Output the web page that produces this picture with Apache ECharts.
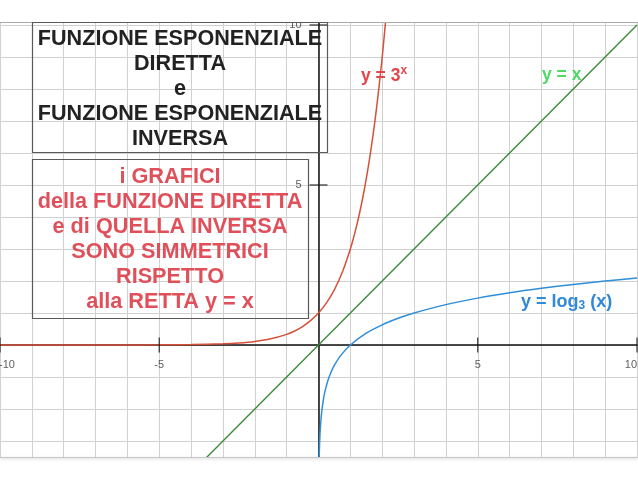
<!DOCTYPE html>
<html>
<head>
<meta charset="utf-8">
<script src="https://cdn.jsdelivr.net/npm/echarts@6/dist/echarts.min.js"></script>
<style>html,body{margin:0;padding:0;background:#fff}#c{width:638px;height:479px}</style>
</head>
<body>
<div id="c"></div>
<script>
// ---- data ----
const xTickLabels = [-10, -5, 5, 10];
const yTickLabels = [5, 10];

// y = 3^x
const expX = [-10, -6, -5, -4, -3, -2.5, -2, -1.5, -1, -0.75, -0.5, -0.25, 0, 0.25, 0.5, 0.75, 1, 1.1, 1.2, 1.3, 1.4, 1.5, 1.6, 1.7, 1.8, 1.9, 2, 2.05, 2.1, 2.15];
const expY = [0.00002, 0.0014, 0.0041, 0.0123, 0.037, 0.064, 0.111, 0.192, 0.333, 0.439, 0.577, 0.760, 1, 1.316, 1.732, 2.280, 3, 3.348, 3.737, 4.171, 4.656, 5.196, 5.800, 6.473, 7.225, 8.064, 9, 9.509, 10.045, 10.6];

// y = x
const idX = [-4, 10];
const idY = [-4, 10];

// y = log3(x)
const logX = [0.018, 0.022, 0.03, 0.04, 0.05, 0.075, 0.1, 0.15, 0.2, 0.3, 0.4, 0.5, 0.7, 1, 1.5, 2, 2.5, 3, 4, 5, 6, 7, 8, 9, 10];
const logY = [-3.65, -3.475, -3.19, -2.93, -2.73, -2.36, -2.096, -1.727, -1.465, -1.096, -0.834, -0.631, -0.325, 0, 0.369, 0.631, 0.834, 1, 1.262, 1.465, 1.631, 1.771, 1.893, 2, 2.096];

const titleLines = ['FUNZIONE ESPONENZIALE', 'DIRETTA', 'e', 'FUNZIONE ESPONENZIALE', 'INVERSA'];
const noteLines = ['i GRAFICI', 'della FUNZIONE DIRETTA', 'e di QUELLA INVERSA', 'SONO SIMMETRICI', 'RISPETTO', 'alla RETTA y = x'];

const pairs = (xs, ys) => xs.map((x, i) => [x, ys[i]]);

const chart = echarts.init(document.getElementById('c'));
const font = '"Liberation Sans", Arial, sans-serif';

const graphics = [
  { type: 'rect', z: 50, shape: { x: 0, y: 0, width: 638, height: 22 }, style: { fill: '#fff' } },
  { type: 'rect', z: 50, shape: { x: 0, y: 457, width: 638, height: 22 }, style: { fill: '#fff' } },
  { type: 'line', z: 51, shape: { x1: 0, y1: 22.5, x2: 638, y2: 22.5 }, style: { stroke: '#aaa', lineWidth: 1 } },
  { type: 'line', z: 51, shape: { x1: 0, y1: 457.5, x2: 638, y2: 457.5 }, style: { stroke: '#c8c8c8', lineWidth: 1, shadowColor: 'rgba(0,0,0,0.25)', shadowBlur: 3, shadowOffsetY: 1 } },
  { type: 'rect', z: 60, shape: { x: 32.5, y: 22.5, width: 295, height: 130 }, style: { fill: 'none', stroke: '#5a5a5a', lineWidth: 1.2 } },
  { type: 'rect', z: 60, shape: { x: 32.5, y: 159.5, width: 276, height: 159 }, style: { fill: 'none', stroke: '#5a5a5a', lineWidth: 1.2 } },
];
titleLines.forEach((t, i) => {
  graphics.push({ type: 'text', z: 61, x: 180, y: 39.5 + i * 25,
    style: { text: t, fill: '#222', font: 'bold 21.6px ' + font, align: 'center', verticalAlign: 'middle' } });
});
noteLines.forEach((t, i) => {
  graphics.push({ type: 'text', z: 61, x: 170, y: 177 + i * 25,
    style: { text: t, fill: '#e0505a', font: 'bold 21.7px ' + font, align: 'center', verticalAlign: 'middle' } });
});
graphics.push({ type: 'text', z: 61, x: 361, y: 76,
  style: { text: '{a|y = 3}{s|x}', verticalAlign: 'middle',
    rich: { a: { fill: '#e0464c', font: 'bold 17.5px ' + font }, s: { fill: '#e0464c', font: 'bold 12px ' + font, verticalAlign: 'bottom', padding: [0, 0, 10, 0] } } } });
graphics.push({ type: 'text', z: 61, x: 542, y: 75,
  style: { text: 'y = x', fill: '#4cd964', font: 'bold 17.5px ' + font, verticalAlign: 'middle' } });
graphics.push({ type: 'text', z: 61, x: 521, y: 302,
  style: { text: '{a|y = log}{s|3}{a| (x)}', verticalAlign: 'middle',
    rich: { a: { fill: '#2f88d8', font: 'bold 18px ' + font }, s: { fill: '#2f88d8', font: 'bold 12px ' + font, verticalAlign: 'top', padding: [8, 0, 0, 0] } } } });

const xTickData = xTickLabels.map((v, i) => ({
  value: [v, 0],
  label: { align: i === 0 ? 'left' : (i === xTickLabels.length - 1 ? 'right' : 'center'), offset: i === 0 ? [-1, 0] : [0, 0] }
}));
const yTickData = yTickLabels.map(v => ({ value: [0, v] }));

chart.setOption({
  animation: false,
  backgroundColor: '#fff',
  grid: { left: 0, right: 1, top: 9, bottom: 6, containLabel: false, outerBoundsMode: 'none' },
  xAxis: {
    type: 'value', min: -10, max: 10, interval: 1,
    axisLine: { onZero: true, lineStyle: { color: '#111', width: 1.5 } },
    axisTick: { show: false },
    axisLabel: { show: false },
    splitLine: { show: true, lineStyle: { color: '#d0d0d0', width: 1 } }
  },
  yAxis: {
    type: 'value', min: -4, max: 10.5, interval: 1,
    axisLine: { onZero: true, lineStyle: { color: '#111', width: 1.5 } },
    axisTick: { show: false },
    axisLabel: { show: false },
    splitLine: { show: true, lineStyle: { color: '#d0d0d0', width: 1 } }
  },
  series: [
    { type: 'line', name: 'y = x', data: pairs(idX, idY), showSymbol: false, lineStyle: { color: '#3c8a3c', width: 1.4 }, z: 3 },
    { type: 'line', name: 'y = 3^x', data: pairs(expX, expY), showSymbol: false, smooth: 0.3, lineStyle: { color: '#d6503a', width: 1.5 }, z: 4 },
    { type: 'line', name: 'y = log3(x)', data: pairs(logX, logY), showSymbol: false, smooth: 0.3, lineStyle: { color: '#2f8ed8', width: 1.5 }, z: 4 },
    { type: 'scatter', name: 'xticks', data: xTickData, clip: false, symbol: 'rect', symbolSize: [1.3, 15],
      itemStyle: { color: '#111' }, z: 5, silent: true,
      label: { show: true, position: 'bottom', distance: 7, color: '#333', fontSize: 11, fontFamily: font,
        formatter: p => String(p.value[0]) } },
    { type: 'scatter', name: 'yticks', data: yTickData, clip: false, symbol: 'rect', symbolSize: [18, 1.3],
      itemStyle: { color: '#111' }, z: 5, silent: true,
      label: { show: true, position: 'left', distance: 8, color: '#333', fontSize: 11, fontFamily: font,
        formatter: p => String(p.value[1]) } }
  ],
  graphic: graphics
});
</script>
</body>
</html>
